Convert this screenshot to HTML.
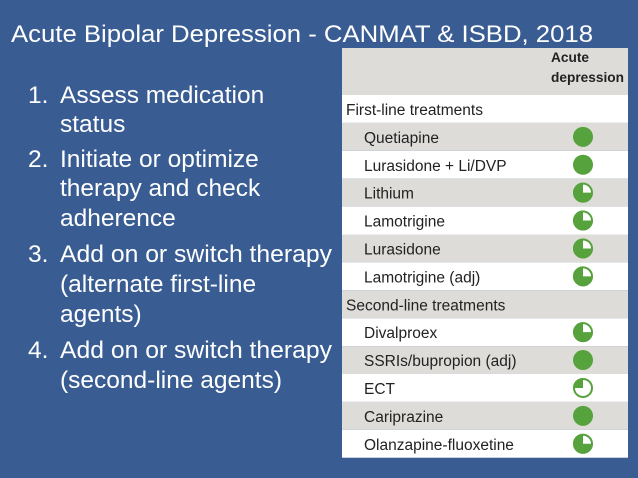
<!DOCTYPE html>
<html><head><meta charset="utf-8"><style>
html,body{margin:0;padding:0;width:638px;height:478px;overflow:hidden;background:#395d93;}
svg{display:block}
</style></head><body>
<svg width="638" height="478" xmlns="http://www.w3.org/2000/svg">
<rect x="0" y="0" width="638" height="478" fill="#395d93"/>
<text x="11" y="42" font-family="Liberation Sans, sans-serif" font-size="24" textLength="582" lengthAdjust="spacingAndGlyphs" fill="#ffffff">Acute Bipolar Depression - CANMAT &amp; ISBD, 2018</text>
<g font-family="Liberation Sans, sans-serif" font-size="24.5" fill="#ffffff">
<text x="28" y="103">1.</text>
<text x="60" y="103">Assess medication</text>
<text x="60" y="132">status</text>
<text x="28" y="167">2.</text>
<text x="60" y="167">Initiate or optimize</text>
<text x="60" y="196">therapy and check</text>
<text x="60" y="226">adherence</text>
<text x="28" y="262">3.</text>
<text x="60" y="262" textLength="272" lengthAdjust="spacingAndGlyphs">Add on or switch therapy</text>
<text x="60" y="292">(alternate first-line</text>
<text x="60" y="322">agents)</text>
<text x="28" y="358">4.</text>
<text x="60" y="358" textLength="272" lengthAdjust="spacingAndGlyphs">Add on or switch therapy</text>
<text x="60" y="388">(second-line agents)</text>
</g>
<g id="tbl"></g>
</svg>
<script>
const rowLabels=["First-line treatments","Quetiapine","Lurasidone + Li/DVP","Lithium","Lamotrigine","Lurasidone","Lamotrigine (adj)","Second-line treatments","Divalproex","SSRIs/bupropion (adj)","ECT","Cariprazine","Olanzapine-fluoxetine"];
const rowLevels=[0,1,1,1,1,1,1,0,1,1,1,1,1];
const rowRatings=[null,1,1,0.75,0.75,0.75,0.75,null,0.75,1,0.25,1,0.75];
const NS="http://www.w3.org/2000/svg";
const g=document.getElementById('tbl');
const X0=342,X1=628,Y0=48,HH=47,RH=27.9,CX=583,R=10,G="#56a23c";
function mk(t,a){const e=document.createElementNS(NS,t);for(const k in a)e.setAttribute(k,a[k]);return e;}
const hdr=mk('rect',{x:X0,y:Y0,width:X1-X0,height:HH,fill:"#dedcd8"});


g.appendChild(hdr);
[["Acute",Y0+14,38],["depression",Y0+34,73]].forEach(([s,y,w])=>{const t=mk('text',{x:551,y:y,'font-family':'Liberation Sans, sans-serif','font-size':14,'font-weight':'bold',textLength:w,lengthAdjust:'spacingAndGlyphs',fill:'#222'});t.textContent=s;


g.appendChild(t);});
rowLabels.forEach((lab,i)=>{
 const y=Y0+HH+i*RH;
 const r=mk('rect',{x:X0,y:y,width:X1-X0,height:RH,fill:i%2?"#dedcd8":"#ffffff"});
 
 
 g.appendChild(r);
 const t=mk('text',{x:rowLevels[i]?364:346,y:y+20,'font-family':'Liberation Sans, sans-serif','font-size':15.5,fill:'#222'});
 t.textContent=lab;
 
 
 g.appendChild(t);
 const v=rowRatings[i];
 if(v==null)return;
 const cy=y+RH/2;
 const ic=mk('g',{});
 
 
 if(v>=1){ic.appendChild(mk('circle',{cx:CX,cy:cy,r:R,fill:G}));}
 else{
  ic.appendChild(mk('circle',{cx:CX,cy:cy,r:R-1,fill:'#fff',stroke:G,'stroke-width':2}));
  const a0=-Math.PI/2, a1=a0-v*2*Math.PI;
  const x1=CX+R*Math.cos(a0),y1=cy+R*Math.sin(a0),x2=CX+R*Math.cos(a1),y2=cy+R*Math.sin(a1);
  const large=v>0.5?1:0;
  ic.appendChild(mk('path',{d:`M${CX},${cy} L${x1},${y1} A${R},${R} 0 ${large} 0 ${x2},${y2} Z`,fill:G}));
 }
 g.appendChild(ic);
});
</script>
</body></html>
